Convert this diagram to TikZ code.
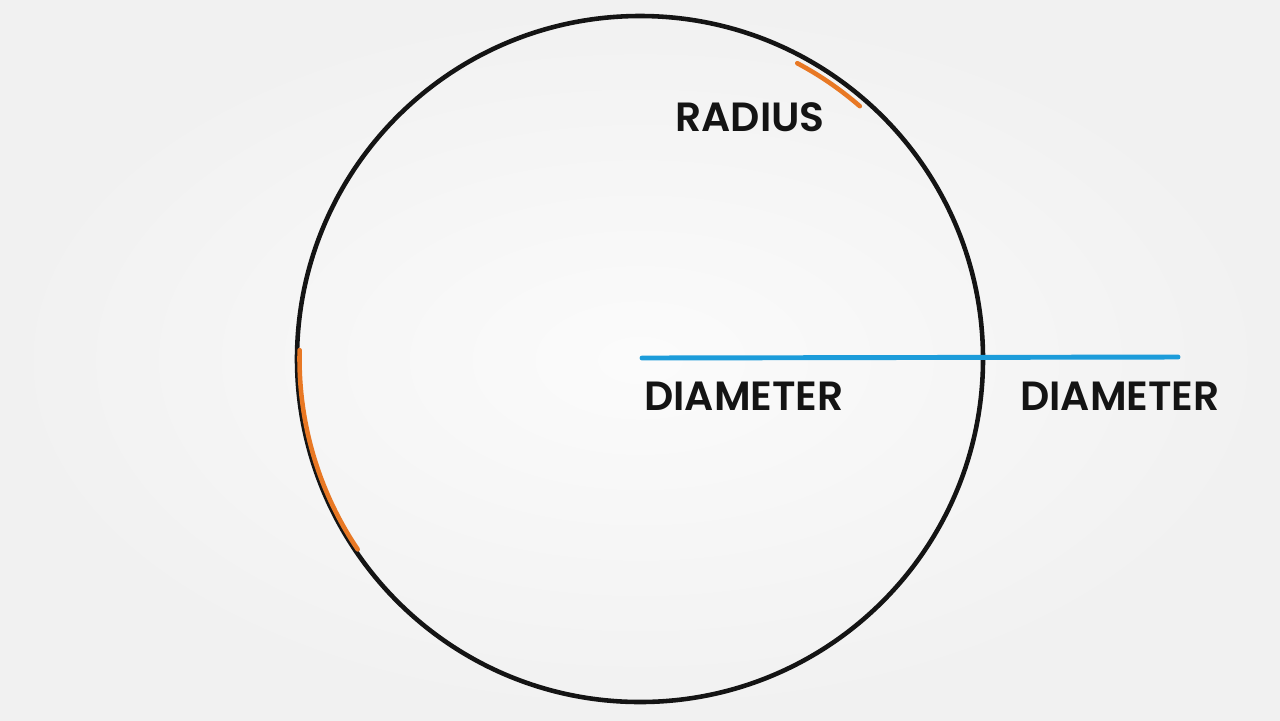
\documentclass[tikz,border=0pt]{standalone}
\usepackage{fontspec}
\setmainfont{Poppins}[UprightFont=* SemiBold]
\usetikzlibrary{calc,positioning}
\definecolor{diamblue}{RGB}{28,156,218}
\definecolor{radorange}{RGB}{232,120,36}
\definecolor{rimblack}{RGB}{20,20,20}
\tikzset{
  label text/.style={text=rimblack,font=\fontsize{11.6}{13}\selectfont,inner sep=0pt},
  rim/.style={draw=rimblack,line width=1.3pt},
  mark arc/.style={draw=radorange,line width=1.3pt,line cap=round}
}

\begin{document}
\begin{tikzpicture}[x=0.01cm,y=0.01cm]
  \shade[inner color=gray!3,outer color=gray!11] (0,0) rectangle (1280,720);
  \useasboundingbox (0,0) rectangle (1280,720);
  \coordinate (O) at (640,361);
  \draw[rim] (O) circle (343);
  % orange marks along the rim
  \draw[mark arc] ($(O)+(49:335)$) arc[start angle=49,end angle=62,radius=335];
  \draw[mark arc] ($(O)+(178.5:340.5)$) arc[start angle=178.5,end angle=214,radius=340.5];
  % the line
  \coordinate (A) at (642,362);
  \coordinate (B) at (1178,363);
  \draw[diamblue,line width=1.4pt,line cap=round] (A) -- (B);
  \node[label text] (radius) at (750,603) {RADIUS};
  \node[label text] (diamleft) at (744,324) {DIAMETER};
  \node[label text] (diamright) at (1120,324) {DIAMETER};
\end{tikzpicture}
\end{document}
